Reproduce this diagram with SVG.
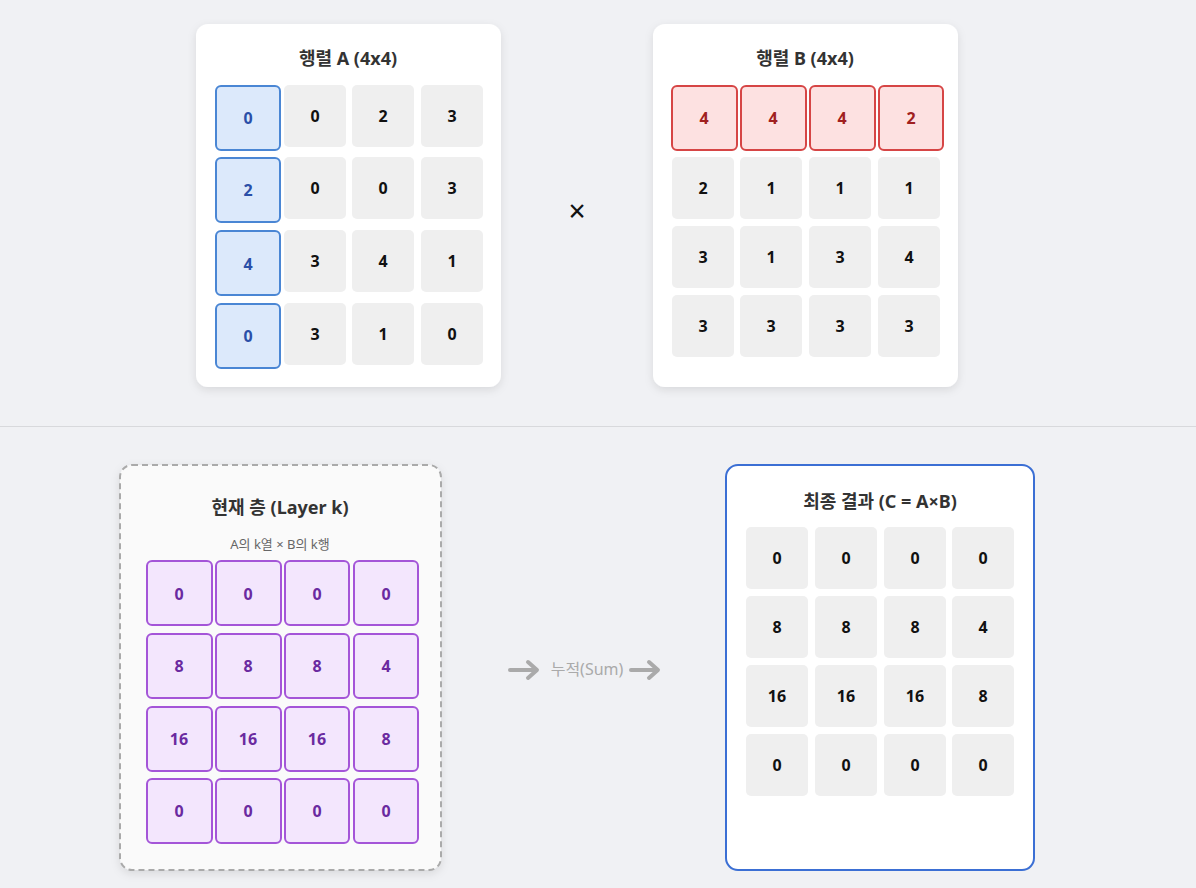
<svg xmlns="http://www.w3.org/2000/svg" width="1196" height="888" viewBox="0 0 1196 888">
<style>
text{font-family:"Noto Sans","Noto Sans CJK KR",sans-serif;text-anchor:middle;dominant-baseline:central}
.title{font-size:18px;font-weight:bold;fill:#333}
.card{fill:#fff;filter:url(#sh)}
.g{fill:#efefef}
.gt{font-size:16px;font-weight:bold;fill:#111}
.a{fill:#dce9fb;stroke:#4a86d4;stroke-width:2}
.at{font-size:16px;font-weight:bold;fill:#2a4fa8}
.b{fill:#fde1e1;stroke:#d64545;stroke-width:2}
.bt{font-size:16px;font-weight:bold;fill:#a02020}
.p{fill:#f3e6fd;stroke:#a455d8;stroke-width:2}
.pt{font-size:16px;font-weight:bold;fill:#6a2aa0}
.arr{fill:none;stroke:#aaa;stroke-width:4;stroke-linecap:round;stroke-linejoin:round}
</style>
<defs><filter id="sh" x="-10%" y="-10%" width="120%" height="130%"><feDropShadow dx="0" dy="3" stdDeviation="4" flood-color="#000" flood-opacity="0.1"/></filter></defs>
<rect width="1196" height="888" fill="#f0f1f4"/>
<g id="matrixA">
<rect class="card" x="196" y="24" width="305" height="363" rx="12"/>
<text class="title" x="348" y="58">행렬 A (4x4)</text>
<rect class="a" x="216" y="86" width="64" height="64" rx="5"/><text class="at" x="248" y="118">0</text>
<rect class="a" x="216" y="158" width="64" height="64" rx="5"/><text class="at" x="248" y="190">2</text>
<rect class="a" x="216" y="231" width="64" height="64" rx="5"/><text class="at" x="248" y="264">4</text>
<rect class="a" x="216" y="304" width="64" height="64" rx="5"/><text class="at" x="248" y="336">0</text>
<rect class="g" x="284" y="85" width="62" height="62" rx="5"/><text class="gt" x="315" y="116">0</text>
<rect class="g" x="352" y="85" width="62" height="62" rx="5"/><text class="gt" x="383" y="116">2</text>
<rect class="g" x="421" y="85" width="62" height="62" rx="5"/><text class="gt" x="452" y="116">3</text>
<rect class="g" x="284" y="157" width="62" height="62" rx="5"/><text class="gt" x="315" y="188">0</text>
<rect class="g" x="352" y="157" width="62" height="62" rx="5"/><text class="gt" x="383" y="188">0</text>
<rect class="g" x="421" y="157" width="62" height="62" rx="5"/><text class="gt" x="452" y="188">3</text>
<rect class="g" x="284" y="230" width="62" height="62" rx="5"/><text class="gt" x="315" y="261">3</text>
<rect class="g" x="352" y="230" width="62" height="62" rx="5"/><text class="gt" x="383" y="261">4</text>
<rect class="g" x="421" y="230" width="62" height="62" rx="5"/><text class="gt" x="452" y="261">1</text>
<rect class="g" x="284" y="303" width="62" height="62" rx="5"/><text class="gt" x="315" y="334">3</text>
<rect class="g" x="352" y="303" width="62" height="62" rx="5"/><text class="gt" x="383" y="334">1</text>
<rect class="g" x="421" y="303" width="62" height="62" rx="5"/><text class="gt" x="452" y="334">0</text>
</g>
<text x="577" y="210" font-size="30" fill="#111">×</text>
<g id="matrixB">
<rect class="card" x="653" y="24" width="305" height="363" rx="12"/>
<text class="title" x="805" y="58">행렬 B (4x4)</text>
<rect class="b" x="672" y="86" width="65" height="64" rx="5"/><text class="bt" x="704" y="118">4</text>
<rect class="b" x="741" y="86" width="65" height="64" rx="5"/><text class="bt" x="773" y="118">4</text>
<rect class="b" x="810" y="86" width="65" height="64" rx="5"/><text class="bt" x="842" y="118">4</text>
<rect class="b" x="879" y="86" width="64" height="64" rx="5"/><text class="bt" x="911" y="118">2</text>
<rect class="g" x="672" y="157" width="62" height="62" rx="5"/><text class="gt" x="703" y="188">2</text>
<rect class="g" x="740" y="157" width="62" height="62" rx="5"/><text class="gt" x="771" y="188">1</text>
<rect class="g" x="809" y="157" width="62" height="62" rx="5"/><text class="gt" x="840" y="188">1</text>
<rect class="g" x="878" y="157" width="62" height="62" rx="5"/><text class="gt" x="909" y="188">1</text>
<rect class="g" x="672" y="226" width="62" height="62" rx="5"/><text class="gt" x="703" y="257">3</text>
<rect class="g" x="740" y="226" width="62" height="62" rx="5"/><text class="gt" x="771" y="257">1</text>
<rect class="g" x="809" y="226" width="62" height="62" rx="5"/><text class="gt" x="840" y="257">3</text>
<rect class="g" x="878" y="226" width="62" height="62" rx="5"/><text class="gt" x="909" y="257">4</text>
<rect class="g" x="672" y="295" width="62" height="62" rx="5"/><text class="gt" x="703" y="326">3</text>
<rect class="g" x="740" y="295" width="62" height="62" rx="5"/><text class="gt" x="771" y="326">3</text>
<rect class="g" x="809" y="295" width="62" height="62" rx="5"/><text class="gt" x="840" y="326">3</text>
<rect class="g" x="878" y="295" width="62" height="62" rx="5"/><text class="gt" x="909" y="326">3</text>
</g>
<line x1="0" y1="426.5" x2="1196" y2="426.5" stroke="#d8d9dc"/>
<g id="layer">
<rect x="120" y="465" width="321" height="405" rx="12" fill="#fafafa" stroke="#aaa" stroke-width="2" stroke-dasharray="6,4" filter="url(#sh)"/>
<text class="title" x="280" y="507">현재 층 (Layer k)</text>
<text x="280" y="544" font-size="13" fill="#666">A의 k열 × B의 k행</text>
<rect class="p" x="147" y="561" width="65" height="64" rx="5"/><text class="pt" x="179" y="594">0</text>
<rect class="p" x="216" y="561" width="65" height="64" rx="5"/><text class="pt" x="248" y="594">0</text>
<rect class="p" x="285" y="561" width="64" height="64" rx="5"/><text class="pt" x="317" y="594">0</text>
<rect class="p" x="354" y="561" width="64" height="64" rx="5"/><text class="pt" x="386" y="594">0</text>
<rect class="p" x="147" y="634" width="65" height="64" rx="5"/><text class="pt" x="179" y="666">8</text>
<rect class="p" x="216" y="634" width="65" height="64" rx="5"/><text class="pt" x="248" y="666">8</text>
<rect class="p" x="285" y="634" width="64" height="64" rx="5"/><text class="pt" x="317" y="666">8</text>
<rect class="p" x="354" y="634" width="64" height="64" rx="5"/><text class="pt" x="386" y="666">4</text>
<rect class="p" x="147" y="707" width="65" height="64" rx="5"/><text class="pt" x="179" y="739">16</text>
<rect class="p" x="216" y="707" width="65" height="64" rx="5"/><text class="pt" x="248" y="739">16</text>
<rect class="p" x="285" y="707" width="64" height="64" rx="5"/><text class="pt" x="317" y="739">16</text>
<rect class="p" x="354" y="707" width="64" height="64" rx="5"/><text class="pt" x="386" y="739">8</text>
<rect class="p" x="147" y="779" width="65" height="64" rx="5"/><text class="pt" x="179" y="811">0</text>
<rect class="p" x="216" y="779" width="65" height="64" rx="5"/><text class="pt" x="248" y="811">0</text>
<rect class="p" x="285" y="779" width="64" height="64" rx="5"/><text class="pt" x="317" y="811">0</text>
<rect class="p" x="354" y="779" width="64" height="64" rx="5"/><text class="pt" x="386" y="811">0</text>
</g>
<g id="connectors">
<path class="arr" d="M510 670 H536 M528 662 L537 670 L528 678"/>
<text x="587" y="669" font-size="16" fill="#aaa">누적(Sum)</text>
<path class="arr" d="M631 670 H657 M649 662 L658 670 L649 678"/>
</g>
<g id="result">
<rect x="726" y="465" width="308" height="405" rx="12" fill="#fff" stroke="#3b6fd4" stroke-width="2"/>
<text class="title" x="880" y="501">최종 결과 (C = A×B)</text>
<rect class="g" x="746" y="527" width="62" height="62" rx="5"/><text class="gt" x="777" y="558">0</text>
<rect class="g" x="815" y="527" width="62" height="62" rx="5"/><text class="gt" x="846" y="558">0</text>
<rect class="g" x="884" y="527" width="62" height="62" rx="5"/><text class="gt" x="915" y="558">0</text>
<rect class="g" x="952" y="527" width="62" height="62" rx="5"/><text class="gt" x="983" y="558">0</text>
<rect class="g" x="746" y="596" width="62" height="62" rx="5"/><text class="gt" x="777" y="627">8</text>
<rect class="g" x="815" y="596" width="62" height="62" rx="5"/><text class="gt" x="846" y="627">8</text>
<rect class="g" x="884" y="596" width="62" height="62" rx="5"/><text class="gt" x="915" y="627">8</text>
<rect class="g" x="952" y="596" width="62" height="62" rx="5"/><text class="gt" x="983" y="627">4</text>
<rect class="g" x="746" y="665" width="62" height="62" rx="5"/><text class="gt" x="777" y="696">16</text>
<rect class="g" x="815" y="665" width="62" height="62" rx="5"/><text class="gt" x="846" y="696">16</text>
<rect class="g" x="884" y="665" width="62" height="62" rx="5"/><text class="gt" x="915" y="696">16</text>
<rect class="g" x="952" y="665" width="62" height="62" rx="5"/><text class="gt" x="983" y="696">8</text>
<rect class="g" x="746" y="734" width="62" height="62" rx="5"/><text class="gt" x="777" y="765">0</text>
<rect class="g" x="815" y="734" width="62" height="62" rx="5"/><text class="gt" x="846" y="765">0</text>
<rect class="g" x="884" y="734" width="62" height="62" rx="5"/><text class="gt" x="915" y="765">0</text>
<rect class="g" x="952" y="734" width="62" height="62" rx="5"/><text class="gt" x="983" y="765">0</text>
</g>
</svg>
